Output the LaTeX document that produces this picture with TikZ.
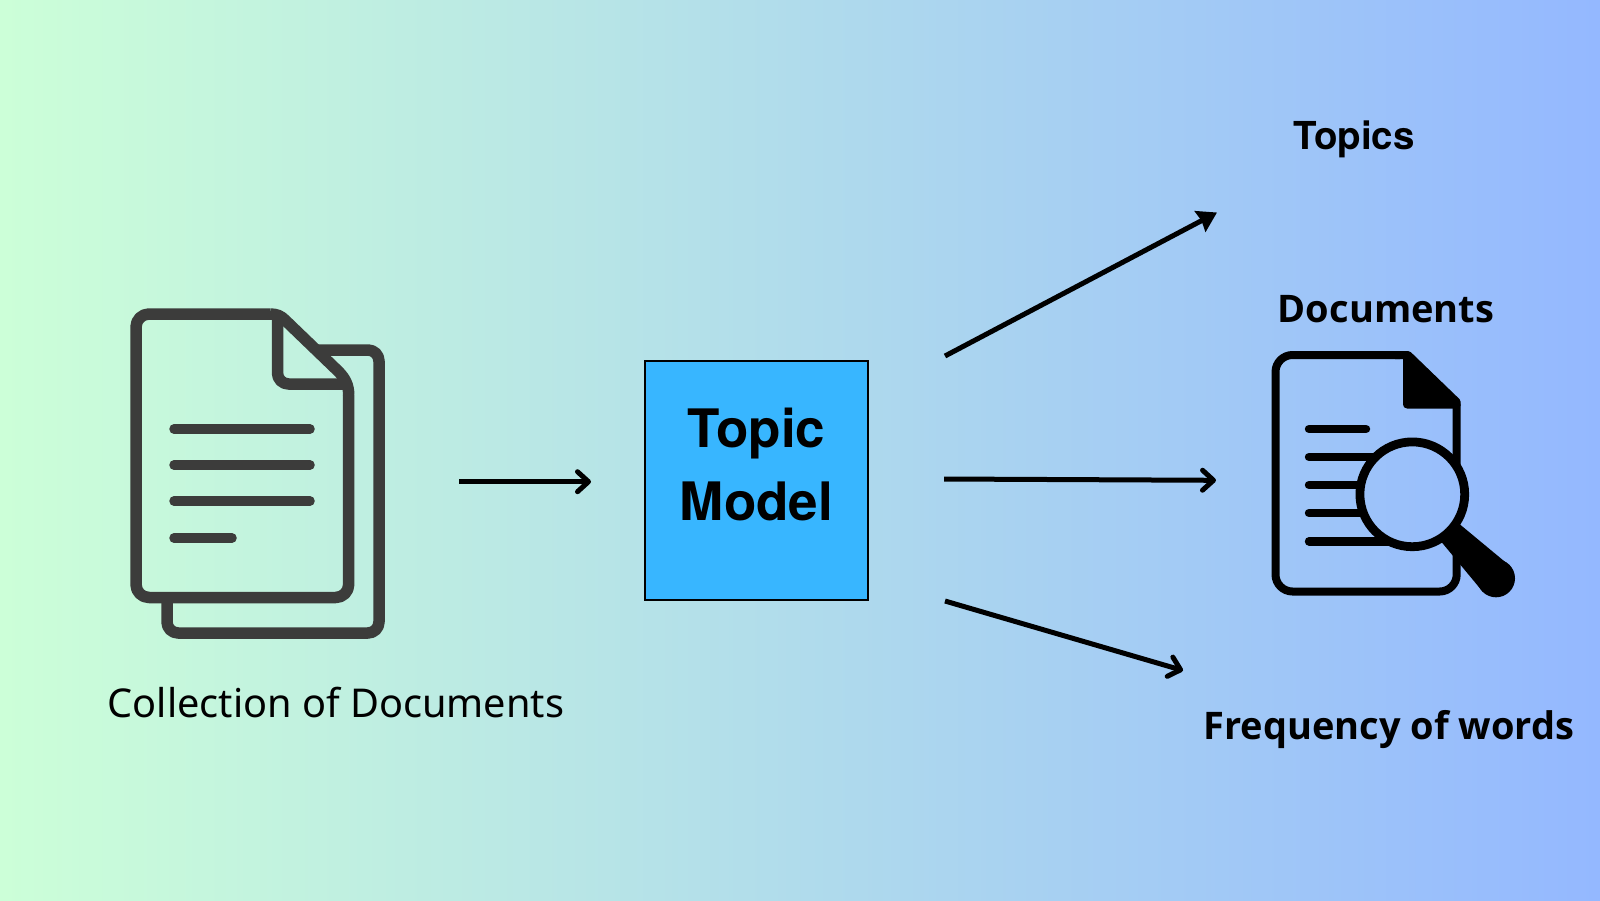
\documentclass[tikz,border=0pt]{standalone}
\usepackage{fontspec}
\setmainfont{Noto Sans}
\newfontfamily\headfont{TeX Gyre Heros}
\newfontfamily\labelfont{Open Sans}
\usetikzlibrary{arrows.meta}
\definecolor{bgL}{RGB}{204,255,216}
\definecolor{bgM}{RGB}{179,222,234}
\definecolor{bgR}{RGB}{148,184,255}
\definecolor{iconc}{RGB}{60,60,59}
\definecolor{boxc}{RGB}{56,182,255}
\tikzset{
  x=1pt,y=-1pt,
  conn/.style={line width=5pt,black},
  barb/.style={conn,-{Straight Barb[length=11pt,width=20pt,line width=5pt,round]}},
  solidtip/.style={conn,-{Stealth[length=19pt,width=23pt,inset=1.5pt]}},
  sheet/.style={iconc,line width=11.5pt,line join=round},
  rule/.style={iconc,line width=9.5pt,line cap=round},
  mine/.style={black,line width=8.4pt,line cap=round},
  title/.style={font=\labelfont\bfseries\fontsize{38}{38}\selectfont,anchor=base,inner sep=0pt,black},
  headtitle/.style={font=\headfont\bfseries\fontsize{38.5}{38.5}\selectfont,anchor=base,inner sep=0pt,black},
  plain/.style={font=\fontsize{39.7}{39.7}\selectfont,anchor=base,inner sep=0pt,black},
}
\begin{document}
\begin{tikzpicture}
\useasboundingbox (0,0) rectangle (1600,900);
\shade[left color=bgL,middle color=bgM,right color=bgR] (0,0) rectangle (1600,900);

% back sheet
\draw[sheet,rounded corners=11pt] (318,350) -- (379,350) -- (379,633) -- (167,633) -- (167,597);
% front sheet
\draw[sheet,rounded corners=13pt] (348.7,395) -- (348.7,597.5) -- (136,597.5) -- (136,314) -- (270,314);
\draw[sheet] (270,314) .. controls (277,314) and (281,316) .. (285,320) -- (338,371) .. controls (345,378) and (348.7,385) .. (348.7,395);
\draw[sheet,rounded corners=11pt] (277.5,314) -- (277.5,384) -- (346,384);
\foreach \y/\e in {429/310,465/310,501/310,538/232}
  \draw[rule] (174,\y) -- (\e,\y);

% stack caption
\node[plain] (collection) at (336,717.5) {Collection of Documents};

% first arrow
\coordinate (a0) at (459,481.7);
\coordinate (a1) at (591,481.7);
\draw[barb] (a0) -- (a1);

% model box
\node[draw=black,line width=2.4pt,fill=boxc,minimum width=222.5pt,minimum height=239pt,inner sep=0pt,outer sep=0pt] (box) at (756.5,480.7) {};
\node[font=\headfont\bfseries\fontsize{53}{73}\selectfont,align=center,inner sep=0pt] (boxlabel) at (756.5,464) {Topic\\Model};

% output arrows
\coordinate (t0) at (945,356);
\coordinate (t1) at (1217,212.5);
\coordinate (m0) at (944,479);
\coordinate (m1) at (1216,480.3);
\coordinate (b0) at (945,601);
\coordinate (b1) at (1183,670.5);
\draw[solidtip] (t0) -- (t1);
\draw[barb] (m0) -- (m1);
\draw[barb] (b0) -- (b1);

% output labels
\node[headtitle] (topics) at (1354,149.5) {Topics};
\node[title] (documents) at (1386,322.5) {Documents};
\node[title] (frequency) at (1389,739.5) {Frequency of words};

% searched document icon
\draw[black,line width=8pt,line join=round] (1456.7,466) -- (1456.7,402) -- (1408,355) -- (1395,355);
\draw[black,line width=8pt,rounded corners=17pt] (1400,355) -- (1275.5,355) -- (1275.5,591.5) -- (1456.7,591.5) -- (1456.7,545);
\fill[black,rounded corners=4pt] (1403,352) -- (1403,408.5) -- (1460.7,408.5) -- (1460.7,402) -- (1410,352) -- cycle;
\draw[mine] (1309,429) -- (1366,429);
\draw[mine,line cap=butt] (1313,457) -- (1375,457);
\draw[mine] (1309,457) -- (1320,457);
\draw[mine,line cap=butt] (1313,485) -- (1360,485);
\draw[mine] (1309,485) -- (1320,485);
\draw[mine,line cap=butt] (1313,513) -- (1363,513);
\draw[mine] (1309,513) -- (1320,513);
\draw[mine,line cap=butt] (1313,541.3) -- (1389,541.3);
\draw[mine] (1309,541.3) -- (1320,541.3);
\draw[black,line width=8.8pt] (1412.3,494.3) circle[radius=52.4];
\fill[black] (1457,522) -- (1510,566) -- (1483,592) -- (1439,539) -- cycle;
\fill[black] (1496,578.3) circle[radius=19];
\end{tikzpicture}
\end{document}
